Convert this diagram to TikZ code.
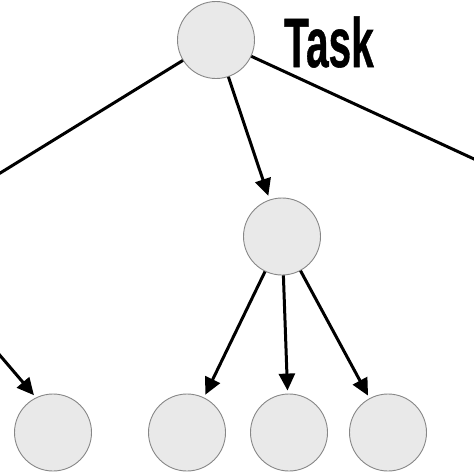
\documentclass[tikz,border=0pt]{standalone}
\usepackage{fontspec}
\usepackage{graphicx}
\usetikzlibrary{arrows.meta}
\newfontfamily\taskfont[BoldFeatures={FakeBold=0.8}]{Liberation Sans}
\definecolor{nodefill}{RGB}{233,233,233}
\definecolor{nodeline}{RGB}{135,135,135}
\begin{document}
\begin{tikzpicture}[x=1pt,y=-1pt,
  tnode/.style={circle,draw=nodeline,fill=nodefill,line width=0.9pt,minimum size=77pt,inner sep=0pt},
  edge/.style={line width=3pt,black},
  arr/.style={edge,-{Triangle[length=17pt,width=16pt]},shorten >=3pt}]
\useasboundingbox (0,0) rectangle (474,474);
\clip (0,0) rectangle (474,474);
\fill[white] (0,0) rectangle (474,474);
\coordinate (offL) at (-102,236);
\coordinate (offR) at (641,236);
\node[tnode] (top) at (216,40) {};
\node[tnode] (mid) at (282,236.5) {};
\node[tnode] (c1) at (53,432.5) {};
\node[tnode] (c2) at (187,432.5) {};
\node[tnode] (c3) at (289,432.5) {};
\node[tnode] (c4) at (388,432.5) {};
\node[anchor=base west,inner sep=0pt] (label) at (284,67) {\scalebox{0.58}[1]{\taskfont\bfseries\fontsize{70}{70}\selectfont Task}};
\draw[edge] (top) -- (offL);
\draw[edge] (top) -- (offR);
\draw[arr,shorten >=4pt] (top) -- (mid);
\draw[arr] (mid) -- (c2);
\draw[arr] (mid) -- (c3);
\draw[arr] (mid) -- (c4);
\draw[arr] (offL) -- (c1.116);
\end{tikzpicture}
\end{document}
